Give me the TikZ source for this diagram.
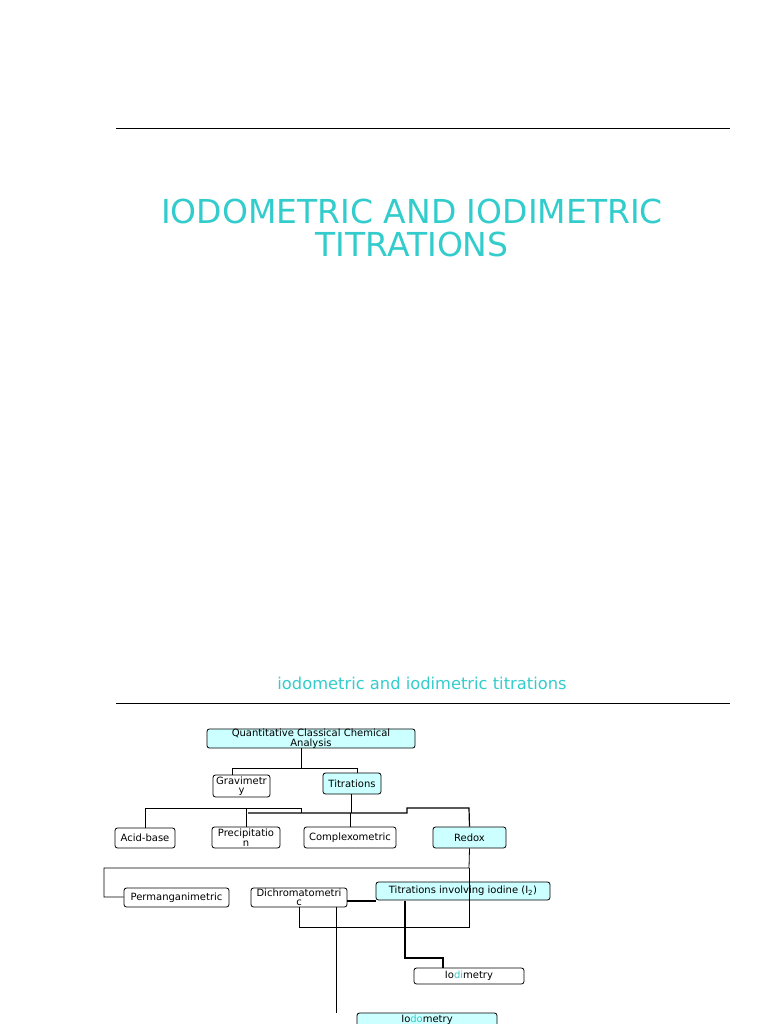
\documentclass[tikz,border=0pt]{standalone}
\usepackage{fontspec}
\setmainfont{DejaVu Sans}
\definecolor{tc}{HTML}{33CCCC}
\definecolor{bf}{HTML}{CCFFFF}
\begin{document}
\begin{tikzpicture}[x=1pt,y=-1pt,
  bx/.style={draw,rounded corners=2.5pt,line width=0.8pt,inner sep=0pt,font=\fontsize{10}{9.5}\selectfont,align=center},
  fb/.style={bx,fill=bf},
  ln/.style={line width=0.8pt}]
\useasboundingbox (0,0) rectangle (768,1024);
\clip (0,0) rectangle (768,1024);
\draw[line width=0.8pt] (116,128) -- (730,128);
\draw[line width=0.8pt] (116,703) -- (730,703);
\node[text=tc,font=\fontsize{33}{33}\selectfont,align=center] (title) at (412,228) {IODOMETRIC AND IODIMETRIC\\TITRATIONS};
\node[text=tc,font=\fontsize{16.3}{16}\selectfont] (sub) at (422,683) {iodometric and iodimetric titrations};
% nodes
\node[fb,minimum width=208pt,minimum height=19pt] (q) at (311,738.5) {Quantitative Classical Chemical\\Analysis};
\node[bx,minimum width=57pt,minimum height=22pt] (g) at (241.5,786) {Gravimetr\\y};
\node[fb,minimum width=58pt,minimum height=21pt] (t) at (352,783.5) {Titrations};
\node[bx,minimum width=60pt,minimum height=20pt] (ab) at (145,838) {Acid-base};
\node[bx,minimum width=68pt,minimum height=21pt] (pr) at (246,837.5) {Precipitatio\\n};
\node[bx,minimum width=92pt,minimum height=21pt] (co) at (350,837.5) {Complexometric};
\node[fb,minimum width=73pt,minimum height=21pt] (re) at (469.5,837.5) {Redox};
\node[bx,minimum width=105pt,minimum height=19pt] (pe) at (176.5,897.5) {\raisebox{-3pt}{Permanganimetric}};
\node[bx,minimum width=96pt,minimum height=19pt] (di) at (299,897.5) {Dichromatometri\\c};
\node[fb,minimum width=174pt,minimum height=18pt] (ti) at (463,891) {Titrations involving iodine (I\textsubscript{2})};
\node[bx,minimum width=110pt,minimum height=16pt] (idi) at (469,976) {Io\textcolor{tc}{di}metry};
\node[fb,minimum width=140pt,minimum height=14pt] (ido) at (427,1020) {Io\textcolor{tc}{do}metry};
% connectors
\draw[ln] (q.south -| 301,0) -- (301,768) -- (232,768) -- (g.north -| 232,0);
\draw[ln] (301,768) -- (357,768) -- (t.north -| 357,0);
\draw[ln] (ab.north) -- (145,808) -- (301,808) -- (301,813);
\draw[ln] (pr.north) -- (246,808);
\draw[line width=1.2pt] (248,813) -- (407,813) -- (407,808) -- (469,808) -- (re.north);
\draw[ln] (t.south -| 351,0) -- (351,813);
\draw[ln] (co.north) -- (350,813);
\draw[ln] (re.south) -- (469,868) -- (104,868) -- (104,897) -- (pe.west |- 0,897);
\draw[ln] (469,868) -- (469,927) -- (299,927) -- (di.south);
\draw[line width=1.2pt] (di.east |- 0,901) -- (ti.west |- 0,901);
\draw[line width=1.2pt] (405,901) -- (405,958) -- (443,958) -- (idi.north -| 443,0);
\draw[ln] (di.south -| 336,0) -- (ido.north -| 336,0);
\end{tikzpicture}
\end{document}
